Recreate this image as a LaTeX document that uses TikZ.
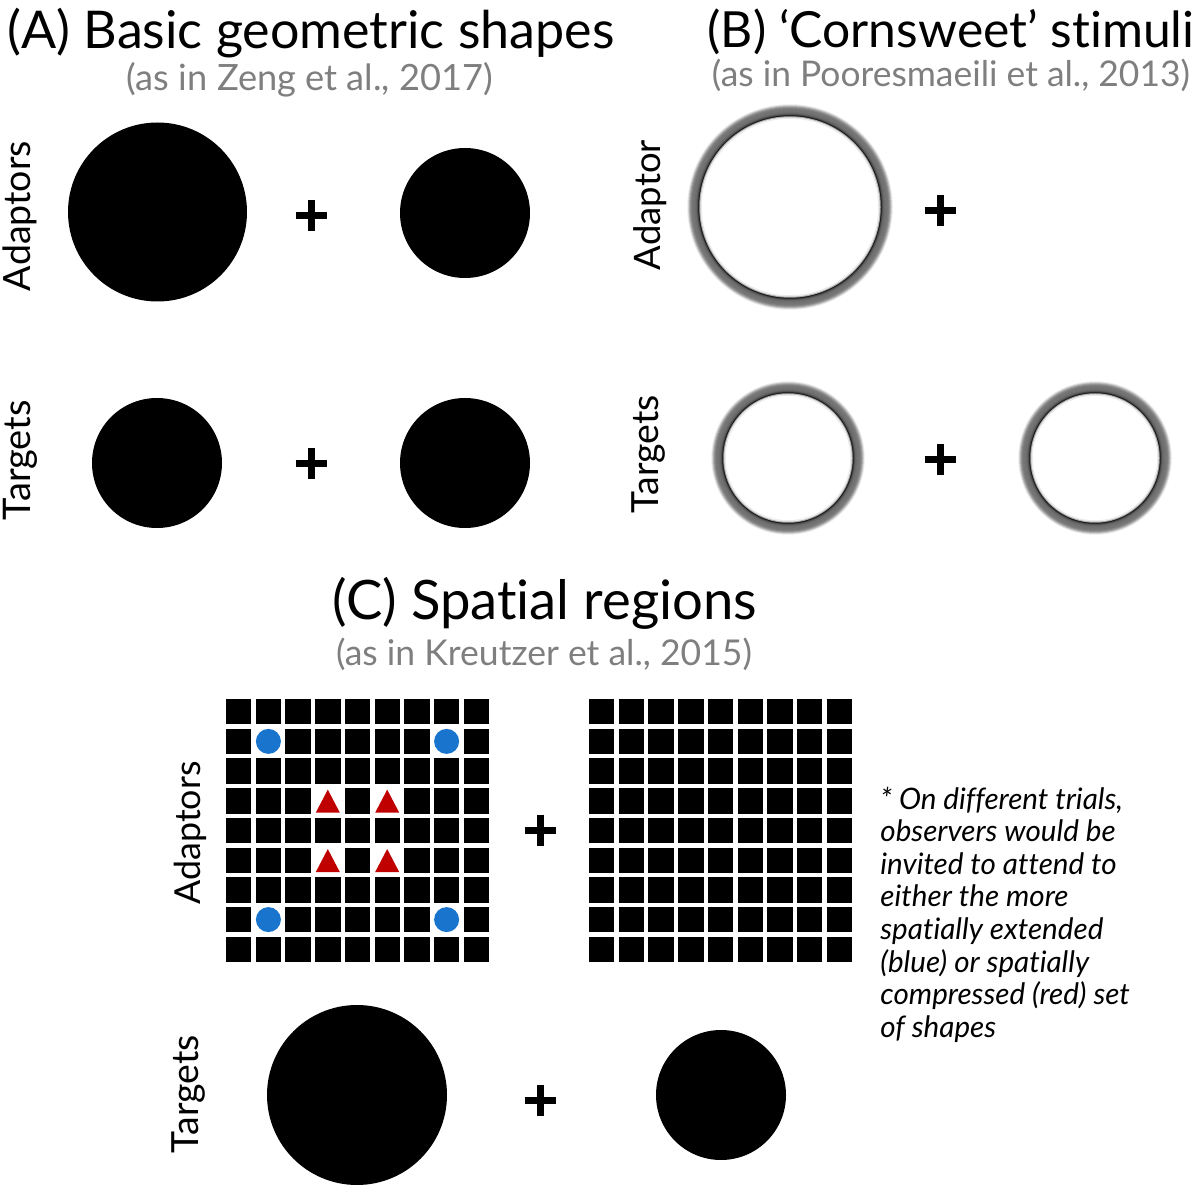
\documentclass[tikz,border=0pt]{standalone}
\usepackage{fontspec}
\setmainfont[Ligatures=NoCommon]{Lato}
\usepackage{graphicx}
\definecolor{subgray}{HTML}{7F7F7F}
\definecolor{dotblue}{HTML}{1874CD}
\definecolor{trired}{HTML}{C00000}
\tikzset{
 ttl/.style={inner sep=0pt, text=black},
 sub/.style={inner sep=0pt, text=subgray},
 lab/.style={inner sep=0pt, rotate=90},
 plusbar/.style={line width=3.5pt},
 notetxt/.style={inner sep=0pt, anchor=base west, font=\itshape\fontsize{14.8pt}{16pt}\selectfont},
}
\newcommand\sqgrid[2]{%
 \foreach \r in {0,...,8}{\foreach \c in {0,...,8}{
   \fill (#1+\c*29.7,#2+\r*29.7) rectangle ++(25.4,25.4);}}}
\newcommand\plussign[2]{%
 \draw[plusbar] (#1-15.5,#2) -- (#1+15.5,#2);
 \draw[plusbar] (#1,#2-15.5) -- (#1,#2+15.5);}
\newcommand\csring[3]{%
 \foreach \o/\v in {11/8,10/22,9/36,8/46,7/52,6/54,5/55,4/56,3/58,2/62,1/72,0/90,-1/35,-2/8}{
   \draw[line width=0.75pt, black!\v] (#1,#2) circle[radius=#3+\o];}}
\begin{document}
\begin{tikzpicture}[x=0.5pt,y=-0.5pt]
\useasboundingbox (0,0) rectangle (1200,1187);
\fill[white] (0,0) rectangle (1200,1187);
% ---------- Panel A
\node[ttl] (tA) at (311,33) {\resizebox{303.5pt}{!}{(A) Basic geometric shapes}};
\node[sub] (sA) at (310,80) {\resizebox{183pt}{!}{(as in Zeng et al., 2017)}};
\node[lab] (adA) at (20,216) {\resizebox{75pt}{!}{Adaptors}};
\node[lab] (tgA) at (20,460) {\resizebox{60pt}{!}{Targets}};
\fill (157.5,212) circle[radius=89.5];
\fill (465,213) circle[radius=65];
\plussign{311}{216}
\fill (157,463) circle[radius=65];
\fill (465,463) circle[radius=65];
\plussign{311}{464}
% ---------- Panel B
\node[ttl] (tB) at (951,32) {\resizebox{243.5pt}{!}{(B) ‘Cornsweet’ stimuli}};
\node[sub] (sB) at (951,75) {\resizebox{239pt}{!}{(as in Pooresmaeili et al., 2013)}};
\node[lab] (adB) at (650,205) {\resizebox{65pt}{!}{Adaptor}};
\node[lab] (tgB) at (649,454) {\resizebox{59pt}{!}{Targets}};
\csring{790}{207}{91}
\plussign{940}{211}
\csring{788}{458}{65}
\csring{1095}{458}{65}
\plussign{940}{460}
% ---------- Panel C
\node[ttl] (tC) at (545,603) {\resizebox{212pt}{!}{(C) Spatial regions}};
\node[sub] (sC) at (544,654) {\resizebox{208pt}{!}{(as in Kreutzer et al., 2015)}};
\node[lab] (adC) at (190,833) {\resizebox{71.5pt}{!}{Adaptors}};
\node[lab] (tgC) at (189,1094) {\resizebox{59pt}{!}{Targets}};
\sqgrid{226}{699}
\foreach \r/\c in {1/1,1/7,7/1,7/7}{
  \fill[white] (226+\c*29.7-1,699+\r*29.7-1) rectangle ++(27.4,27.4);
  \fill[dotblue] (226+\c*29.7+12.7,699+\r*29.7+12.7) circle[radius=12.5];}
\foreach \r/\c in {3/3,3/5,5/3,5/5}{
  \fill[white] (226+\c*29.7-1,699+\r*29.7-1) rectangle ++(27.4,27.4);
  \fill[trired] (226+\c*29.7+0.7,699+\r*29.7+24.5) -- (226+\c*29.7+24.7,699+\r*29.7+24.5) -- (226+\c*29.7+12.7,699+\r*29.7+1.5) -- cycle;}
\plussign{540}{830}
\sqgrid{589}{699}
\node[notetxt] (n1) at (880,809) {* On different trials,};
\node[notetxt] (n2) at (880,841.6) {observers would be};
\node[notetxt] (n3) at (880,874.2) {invited to attend to};
\node[notetxt] (n4) at (880,906.8) {either the more};
\node[notetxt] (n5) at (880,939.4) {spatially extended};
\node[notetxt] (n6) at (880,972) {(blue) or spatially};
\node[notetxt] (n7) at (880,1004.6) {compressed (red) set};
\node[notetxt] (n8) at (880,1037.2) {of shapes};
\fill (357,1095) circle[radius=90];
\plussign{540}{1100}
\fill (721,1095) circle[radius=65];
\end{tikzpicture}
\end{document}
